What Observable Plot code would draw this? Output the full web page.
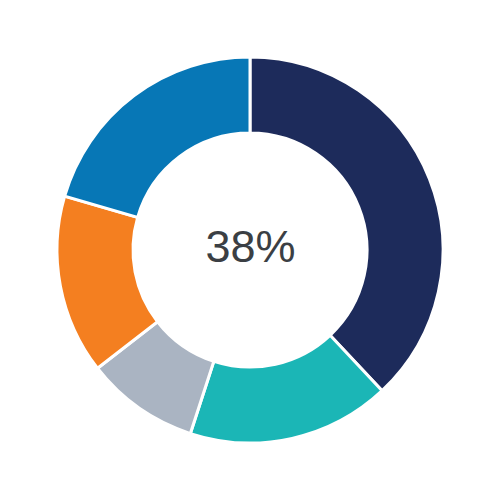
<!DOCTYPE html>
<html>
<head>
<meta charset="utf-8">
<script src="https://cdn.jsdelivr.net/npm/d3@7"></script>
<script src="https://cdn.jsdelivr.net/npm/@observablehq/plot@0.6"></script>
<style>
  html, body { margin: 0; padding: 0; background: #ffffff; }
  #chart { width: 500px; height: 500px; }
</style>
</head>
<body>
<div id="chart"></div>
<script>
// ---- data ----
const categories = ["Segment 1", "Segment 2", "Segment 3", "Segment 4", "Segment 5"];
const values = [38, 17, 9.5, 15, 20.5];
const colors = ["#1d2b5b", "#1bb6b6", "#aab4c2", "#f47f20", "#0777b6"];
const centerLabel = "38%";

const data = categories.map((c, i) => ({ category: c, value: values[i], color: colors[i] }));
const arcs = d3.pie().value(d => d.value).sort(null)(data);

const OUTER = 193, INNER = 117;

function donut(index, scales) {
  const cx = scales.x(0), cy = scales.y(0);
  const outer = Math.abs(scales.x(OUTER) - cx);
  const inner = Math.abs(scales.x(INNER) - cx);
  const arc = d3.arc().innerRadius(inner).outerRadius(outer);
  const g = d3.create("svg:g").attr("transform", `translate(${cx},${cy})`);
  g.selectAll("path")
    .data(arcs)
    .join("path")
    .attr("d", arc)
    .attr("fill", d => d.data.color)
    .attr("stroke", "#ffffff")
    .attr("stroke-width", 3)
    .attr("stroke-linejoin", "miter");
  return g.node();
}

const chart = Plot.plot({
  width: 500,
  height: 500,
  margin: 0,
  x: { domain: [-250, 250], axis: null },
  y: { domain: [-250, 250], axis: null },
  style: { background: "#ffffff" },
  marks: [
    donut,
    Plot.text([centerLabel], {
      x: () => 0,
      y: () => 0,
      text: d => d,
      fontSize: 45,
      fontFamily: "Liberation Sans, Arial, sans-serif",
      fill: "#3b3f44",
      dy: -3
    })
  ]
});
document.getElementById("chart").appendChild(chart);
</script>
</body>
</html>
